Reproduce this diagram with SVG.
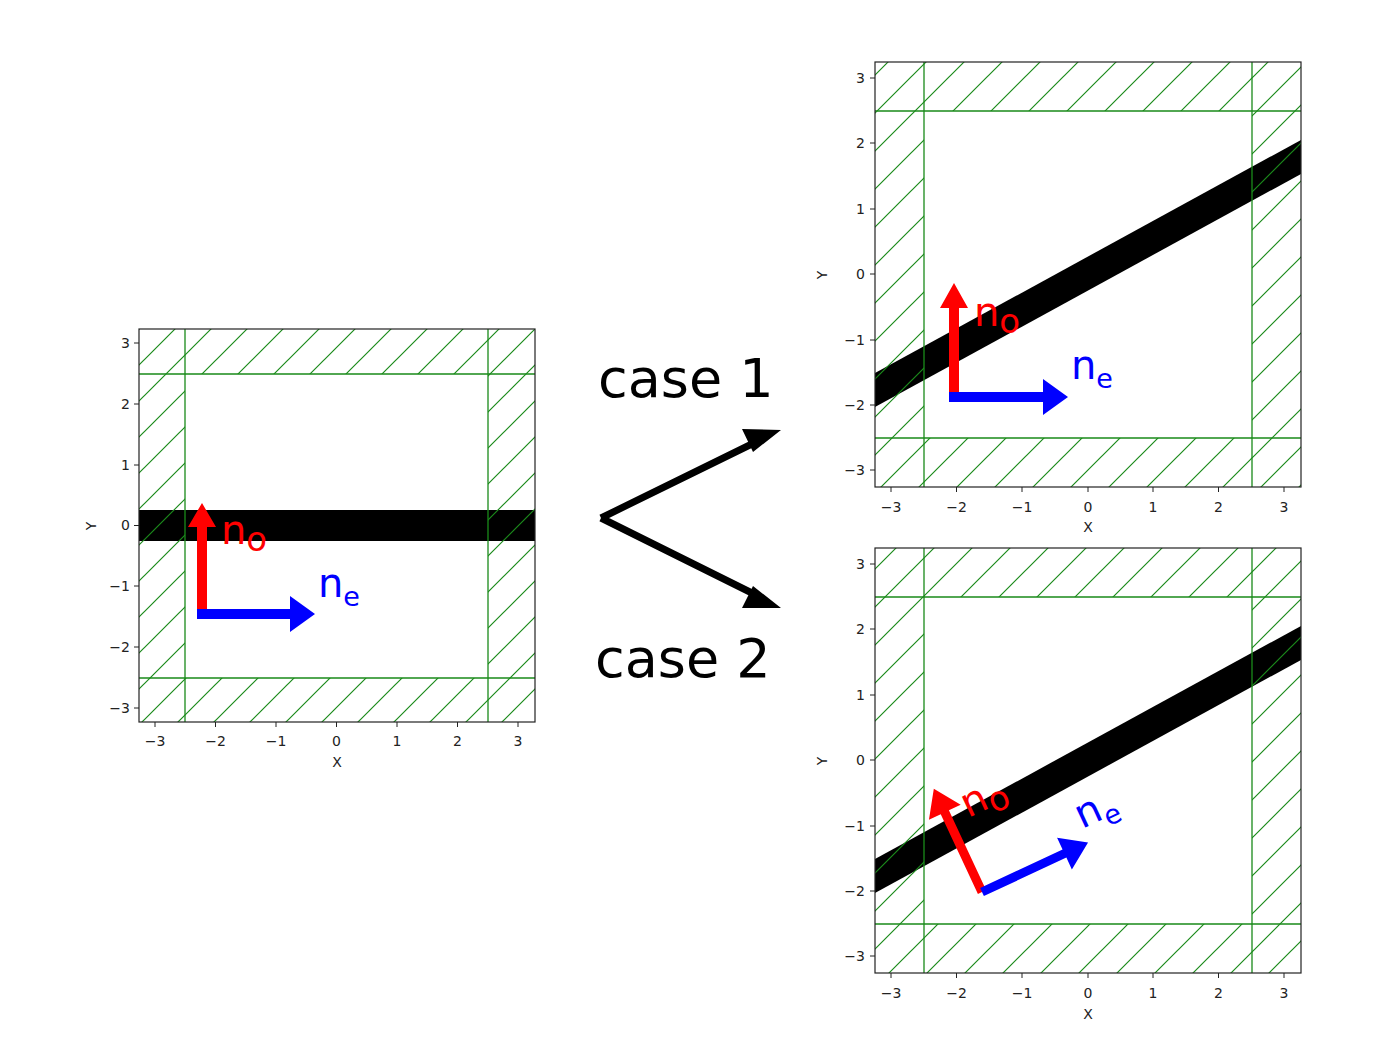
<svg xmlns="http://www.w3.org/2000/svg" width="1384" height="1056" viewBox="0 0 1384 1056">
<style>
text{font-family:"DejaVu Sans",sans-serif}
.tk{font-size:14px;fill:#222}
.ax{fill:none;stroke:#222;stroke-width:1.2}
.gl{stroke:#1a8a1a;stroke-width:1.3;fill:none}
.t{stroke:#222;stroke-width:1}
</style>
<defs>
<pattern id="h" patternUnits="userSpaceOnUse" width="36" height="36"><path d="M-9,9 L9,-9 M0,36 L36,0 M27,45 L45,27" stroke="#1a8a1a" stroke-width="1.2"/></pattern>
<pattern id="h2" patternUnits="userSpaceOnUse" width="38" height="38"><path d="M-9,9 L9,-9 M0,38 L38,0 M29,47 L47,29" stroke="#1a8a1a" stroke-width="1.2"/></pattern>
<clipPath id="cL"><rect x="139" y="329" width="396" height="393"/></clipPath>
<clipPath id="cT"><rect x="875" y="62" width="426" height="425"/></clipPath>
<clipPath id="cB"><rect x="875" y="548" width="426" height="425"/></clipPath>
</defs>
<g id="plot-left">
<g clip-path="url(#cL)">
<rect x="139" y="510" width="396" height="31" fill="#000"/>
<path d="M139,329H535V374H139Z M139,678H535V722H139Z M139,374H185V678H139Z M488,374H535V678H488Z" fill="url(#h)"/>
<path class="gl" d="M139,374H535 M139,678H535 M185,329V722 M488,329V722"/>
</g>
<rect class="ax" x="139" y="329" width="396" height="393"/>
<path class="t" d="M155,722v5M215.5,722v5M276,722v5M336.5,722v5M397,722v5M457.5,722v5M518,722v5M139,343h-5M139,404h-5M139,465h-5M139,525.5h-5M139,586h-5M139,647h-5M139,708h-5"/>
<g class="tk" text-anchor="middle"><text x="155" y="746">−3</text><text x="215.5" y="746">−2</text><text x="276" y="746">−1</text><text x="336.5" y="746">0</text><text x="397" y="746">1</text><text x="457.5" y="746">2</text><text x="518" y="746">3</text><text x="337" y="767">X</text></g>
<g class="tk" text-anchor="end"><text x="130" y="348">3</text><text x="130" y="409">2</text><text x="130" y="470">1</text><text x="130" y="530">0</text><text x="130" y="591">−1</text><text x="130" y="652">−2</text><text x="130" y="713">−3</text></g>
<text class="tk" transform="translate(96,526) rotate(-90)" text-anchor="middle">Y</text>
<path d="M197,610V527H188L202,503L216,527H207V610Z" fill="#f00"/>
<path d="M197,609h93v-13l25,18l-25,18v-13h-93z" fill="#00f"/>
<text x="221" y="544" font-size="40" fill="#f00">n<tspan font-size="34" dy="7">o</tspan></text>
<text x="318" y="597" font-size="40" fill="#00f">n<tspan font-size="27" dy="9">e</tspan></text>
</g>
<g id="plot-top">
<g clip-path="url(#cT)">
<path d="M875,373L1301,140V174L875,407Z" fill="#000"/>
<path d="M875,62H1301V111H875Z M875,438H1301V487H875Z M875,111H924V438H875Z M1252,111H1301V438H1252Z" fill="url(#h2)"/>
<path class="gl" d="M875,111H1301 M875,438H1301 M924,62V487 M1252,62V487"/>
</g>
<rect class="ax" x="875" y="62" width="426" height="425"/>
<path class="t" d="M891,487v5M956.5,487v5M1022,487v5M1088,487v5M1153,487v5M1218.5,487v5M1284,487v5M875,78h-5M875,143h-5M875,209h-5M875,274h-5M875,340h-5M875,405h-5M875,470h-5"/>
<g class="tk" text-anchor="middle"><text x="891" y="512">−3</text><text x="956.5" y="512">−2</text><text x="1022" y="512">−1</text><text x="1088" y="512">0</text><text x="1153" y="512">1</text><text x="1218.5" y="512">2</text><text x="1284" y="512">3</text><text x="1088" y="532">X</text></g>
<g class="tk" text-anchor="end"><text x="865" y="83">3</text><text x="865" y="148">2</text><text x="865" y="214">1</text><text x="865" y="279">0</text><text x="865" y="345">−1</text><text x="865" y="410">−2</text><text x="865" y="475">−3</text></g>
<text class="tk" transform="translate(827,275) rotate(-90)" text-anchor="middle">Y</text>
<path d="M949,397V308H940L954,283L968,308H959V397Z" fill="#f00"/>
<path d="M949,392h94v-13l25,18l-25,18v-13h-94z" fill="#00f"/>
<text x="974" y="326" font-size="40" fill="#f00">n<tspan font-size="34" dy="7">o</tspan></text>
<text x="1071" y="379" font-size="40" fill="#00f">n<tspan font-size="27" dy="9">e</tspan></text>
</g>
<g id="plot-bottom">
<g clip-path="url(#cB)">
<path d="M875,859L1301,626V660L875,893Z" fill="#000"/>
<path d="M875,548H1301V597H875Z M875,924H1301V973H875Z M875,597H924V924H875Z M1252,597H1301V924H1252Z" fill="url(#h2)"/>
<path class="gl" d="M875,597H1301 M875,924H1301 M924,548V973 M1252,548V973"/>
</g>
<rect class="ax" x="875" y="548" width="426" height="425"/>
<path class="t" d="M891,973v5M956.5,973v5M1022,973v5M1088,973v5M1153,973v5M1218.5,973v5M1284,973v5M875,564h-5M875,629h-5M875,695h-5M875,760h-5M875,826h-5M875,891h-5M875,956h-5"/>
<g class="tk" text-anchor="middle"><text x="891" y="998">−3</text><text x="956.5" y="998">−2</text><text x="1022" y="998">−1</text><text x="1088" y="998">0</text><text x="1153" y="998">1</text><text x="1218.5" y="998">2</text><text x="1284" y="998">3</text><text x="1088" y="1019">X</text></g>
<g class="tk" text-anchor="end"><text x="865" y="569">3</text><text x="865" y="634">2</text><text x="865" y="700">1</text><text x="865" y="765">0</text><text x="865" y="831">−1</text><text x="865" y="896">−2</text><text x="865" y="961">−3</text></g>
<text class="tk" transform="translate(827,761) rotate(-90)" text-anchor="middle">Y</text>
<g transform="translate(982,892) rotate(-115)"><path d="M0,-4.5h88v-13l26,17.5l-26,17.5v-13h-88z" fill="#f00"/></g>
<g transform="translate(982,892) rotate(-25)"><path d="M0,-4.5h91v-13l26,17.5l-26,17.5v-13h-91z" fill="#00f"/></g>
<text transform="translate(968,818) rotate(-25)" font-size="40" fill="#f00">n<tspan font-size="34" dy="7">o</tspan></text>
<text transform="translate(1082,829) rotate(-25)" font-size="40" fill="#00f">n<tspan font-size="27" dy="9">e</tspan></text>
</g>
<g id="connectors">
<path d="M601,518L760,440 M601,518L760,597" stroke="#000" stroke-width="7" fill="none"/>
<path d="M781,430L753,452L742,429Z M781,608L742,608L753,586Z" fill="#000"/>
</g>
<text x="598" y="397" font-size="54">case 1</text>
<text x="595" y="677" font-size="54">case 2</text>
</svg>
